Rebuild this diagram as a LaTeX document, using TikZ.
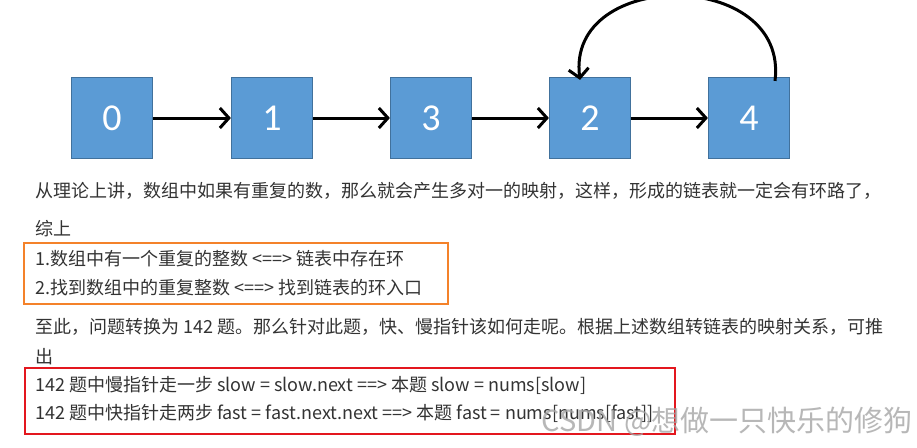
\documentclass[tikz,border=0pt]{standalone}
\usepackage{fontspec}
\setmainfont{Liberation Sans}
\newfontfamily\cjk{Noto Sans CJK SC}
\newfontfamily\digitfont{Carlito}
\usetikzlibrary{arrows.meta}
\definecolor{boxfill}{HTML}{5B9BD5}
\definecolor{boxline}{HTML}{41719C}
\definecolor{txt}{HTML}{333333}
\definecolor{orangeb}{HTML}{F4822A}
\definecolor{redb}{HTML}{E3171E}
\tikzset{
  listbox/.style={draw=boxline, line width=1.2pt, fill=boxfill, minimum width=81pt, minimum height=81pt, inner sep=0pt, text=white, font=\digitfont\fontsize{38}{38}\selectfont},
  link/.style={line width=3pt, -{Straight Barb[length=9pt,width=20pt,line width=3pt]}},
  para/.style={anchor=west, inner sep=0pt, text=txt, font=\cjk\fontsize{18}{18}\selectfont},
  frame/.style={line width=1.5pt}
}
\begin{document}
\begin{tikzpicture}[x=1pt,y=-1pt]
\useasboundingbox (0,0) rectangle (917,447);
\fill[white] (0,0) rectangle (917,447);
\node[listbox] (n0) at (112,118) {0};
\node[listbox] (n1) at (272,118) {1};
\node[listbox] (n3) at (431,118) {3};
\node[listbox] (n2) at (590,118) {2};
\node[listbox] (n4) at (749,118) {4};
\draw[link] (n0) -- (n1);
\draw[link] (n1) -- (n3);
\draw[link] (n3) -- (n2);
\draw[link] (n2) -- (n4);
\draw[link] ([xshift=26pt,yshift=-4pt]n4.north) .. controls ([xshift=40pt,yshift=109pt]n4.north) and ([xshift=-24pt,yshift=109pt]n2.north) .. ([xshift=-10pt,yshift=-3pt]n2.north);
\node[para] (t1) at (35,191) {从理论上讲，数组中如果有重复的数，那么就会产生多对一的映射，这样，形成的链表就一定会有环路了，};
\node[para] (t2) at (35,229) {综上};
\node[para] (t3) at (35,259) {1.数组中有一个重复的整数 <==> 链表中存在环};
\node[para] (t4) at (35,288) {2.找到数组中的重复整数 <==> 找到链表的环入口};
\draw[frame, draw=orangeb] (24,243) rectangle (448,304);
\node[para] (t5) at (35,327) {至此，问题转换为 142 题。那么针对此题，快、慢指针该如何走呢。根据上述数组转链表的映射关系，可推};
\node[para] (t6) at (35,357) {出};
\node[para] (t7) at (35,385) {142 题中慢指针走一步 slow = slow.next ==> 本题 slow = nums[slow]};
\node[para] (t8) at (35,413) {142 题中快指针走两步 fast = fast.next.next ==> 本题 fast = nums[nums[fast]]};
\draw[frame, draw=redb] (25,368) rectangle (675,434);
\node[anchor=east, inner sep=0pt, text=black!35, opacity=0.8, font=\cjk\fontsize{29}{29}\selectfont] (wm) at (913,422) {CSDN @想做一只快乐的修狗};
\end{tikzpicture}
\end{document}
